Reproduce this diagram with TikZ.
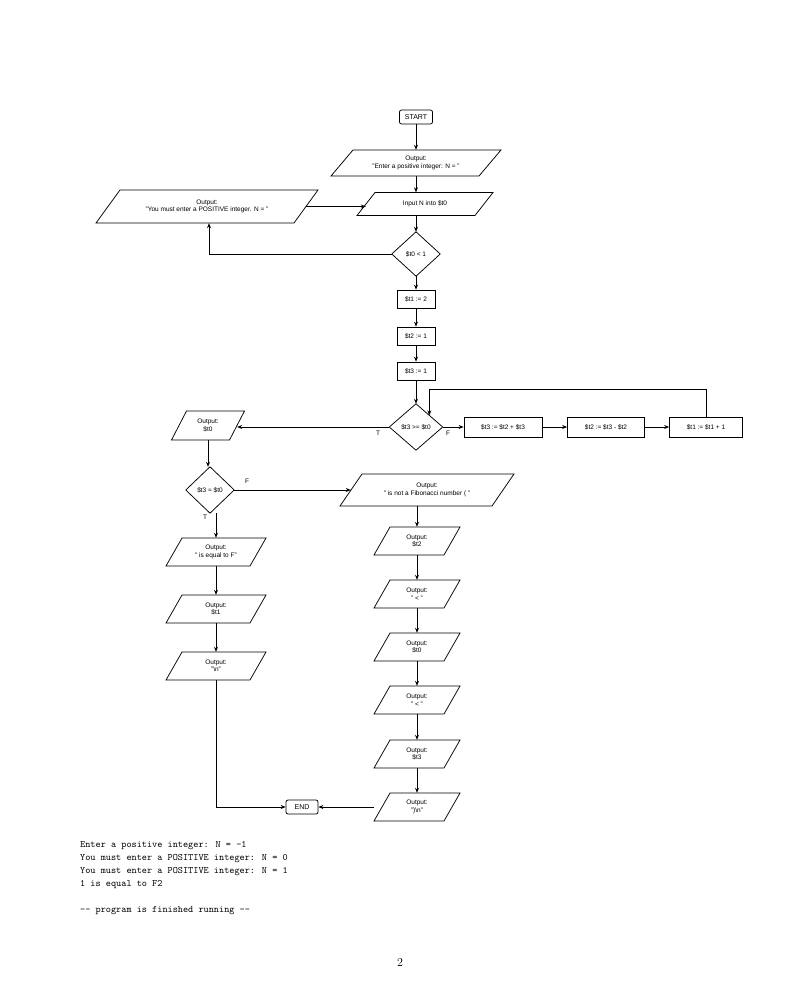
\documentclass[tikz,border=0pt]{standalone}
\usepackage{fontspec}
\setmainfont{Liberation Sans}
\newfontfamily\lmr{Latin Modern Roman}
\usetikzlibrary{arrows.meta,calc}
\tikzset{
 every node/.style={font=\fontsize{6.5}{7.5}\selectfont, align=center},
 inv/.style={inner sep=0pt, draw=none},
 boxn/.style={draw, line width=0.75pt, inner sep=0pt, minimum height=18pt},
 term/.style={draw, line width=0.75pt, rounded corners=2pt, inner sep=0pt, minimum height=14pt, minimum width=33pt, font=\fontsize{7}{8}\selectfont},
 arr/.style={-{Stealth[length=5pt,width=4pt]}, line width=0.75pt},
 shp/.style={line width=0.75pt},
 lab/.style={font=\fontsize{6.5}{7.5}\selectfont}
}
% name, x, y, midwidth, height, slant, text
\newcommand\para[7]{%
 \node[inv, minimum width=#4pt, minimum height=#5pt] (#1) at (#2,#3) {#7};
 \draw[shp] ({#2-#4/2+#6/2},{#3-#5/2}) -- ({#2+#4/2+#6/2},{#3-#5/2}) -- ({#2+#4/2-#6/2},{#3+#5/2}) -- ({#2-#4/2-#6/2},{#3+#5/2}) -- cycle;}
% name, x, y, w, h, text
\newcommand\dia[6]{%
 \node[inv, minimum width=#4pt, minimum height=#5pt] (#1) at (#2,#3) {#6};
 \draw[shp] (#1.north) -- (#1.east) -- (#1.south) -- (#1.west) -- cycle;}
\begin{document}
\begin{tikzpicture}[x=1pt,y=-1pt]
\useasboundingbox (0,0) rectangle (805,988);
\node[term] (start) at (416,117) {START};
\para{out1}{416}{163}{148}{26}{22}{Output:\\"Enter a positive integer: N = "}
\para{inp}{425}{204}{118}{23}{18}{Input N into \$t0}
\para{out2}{207}{206.5}{198}{33}{24}{Output:\\"You must enter a POSITIVE integer. N = "}
\dia{d1}{416}{254}{48}{44}{\$t0 < 1}
\node[boxn, minimum width=38pt] (a1) at (416,299) {\$t1 := 2};
\node[boxn, minimum width=38pt] (a2) at (416,336) {\$t2 := 1};
\node[boxn, minimum width=38pt] (a3) at (416,371) {\$t3 := 1};
\dia{d2}{416}{427}{53}{46}{\$t3 >= \$t0}
\node[boxn, minimum width=78pt, minimum height=20pt] (b1) at (503,427) {\$t3 := \$t2 + \$t3};
\node[boxn, minimum width=77pt, minimum height=20pt] (b2) at (606,427) {\$t2 := \$t3 - \$t2};
\node[boxn, minimum width=73pt, minimum height=20pt] (b3) at (706,427) {\$t1 := \$t1 + 1};
\para{o0}{208}{425.5}{58}{29}{15}{Output:\\\$t0}
\dia{d3}{210}{490}{48}{46}{\$t3 = \$t0}
\para{nf}{427}{490}{152}{32}{22}{Output:\\" is not a Fibonacci number ( "}
\para{l1}{216}{552}{84}{28}{16}{Output:\\" is equal to F"}
\para{l2}{216}{609}{84}{28}{16}{Output:\\\$t1}
\para{l3}{216}{666}{84}{28}{16}{Output:\\"\textbackslash n"}
\para{r1}{417}{541}{70}{28}{16}{Output:\\\$t2}
\para{r2}{417}{594}{70}{28}{16}{Output:\\" < "}
\para{r3}{417}{647}{70}{28}{16}{Output:\\\$t0}
\para{r4}{417}{700}{70}{28}{16}{Output:\\" < "}
\para{r5}{417}{754}{70}{28}{16}{Output:\\\$t3}
\para{r6}{417}{807}{70}{28}{16}{Output:\\")\textbackslash n"}
\node[term, minimum width=32pt] (end) at (302,807) {END};
% connectors
\draw[arr] (start) -- (out1);
\draw[arr] (out1.south) -- (out1.south |- inp.north);
\draw[arr] (out1.south |- inp.south) -- (d1.north);
\draw[arr] (out2.east) -- (out2.east -| inp.west);
\draw[arr] (d1.west) -| ([xshift=2pt]out2.south);
\draw[arr] (d1) -- (a1);
\draw[arr] (a1) -- (a2);
\draw[arr] (a2) -- (a3);
\draw[arr] (a3) -- (d2);
\draw[arr] (d2.east) -- (b1);
\draw[arr] (b1) -- (b2);
\draw[arr] (b2) -- (b3);
\coordinate (lp) at ($(d2.north)!0.5!(d2.east)$);
\draw[arr] (b3.north) -- ++(0,-27) -| (lp);
\draw[arr] (d2.west) -- (d2.west -| o0.east);
\node[lab] at (378,433) {T};
\node[lab] at (448,433) {F};
\draw[arr] (o0.south) -- (o0.south |- d3.north);
\draw[arr] (d3.east) -- (d3.east -| nf.west);
\node[lab] at (247,481) {F};
\node[lab] at (205,517) {T};
\draw[arr] (d3.south -| l1.north) -- (l1.north);
\draw[arr] (l1) -- (l2);
\draw[arr] (l2) -- (l3);
\draw[arr] (nf.south -| r1.north) -- (r1.north);
\draw[arr] (r1) -- (r2);
\draw[arr] (r2) -- (r3);
\draw[arr] (r3) -- (r4);
\draw[arr] (r4) -- (r5);
\draw[arr] (r5) -- (r6);
\draw[arr] ([xshift=-8pt]r6.west) -- (end.east);
\draw[arr] (l3.south) |- (end.west);
\node[anchor=north west, align=left, inner sep=0pt, font=\ttfamily\fontsize{9.8}{13}\selectfont] (con) at (80,841) {Enter a positive integer: N = -1\\You must enter a POSITIVE integer: N = 0\\You must enter a POSITIVE integer: N = 1\\1 is equal to F2\\[13pt]-- program is finished running --};
\node[font=\lmr\fontsize{12}{14}\selectfont] (pg) at (400,962) {2};
\end{tikzpicture}
\end{document}
